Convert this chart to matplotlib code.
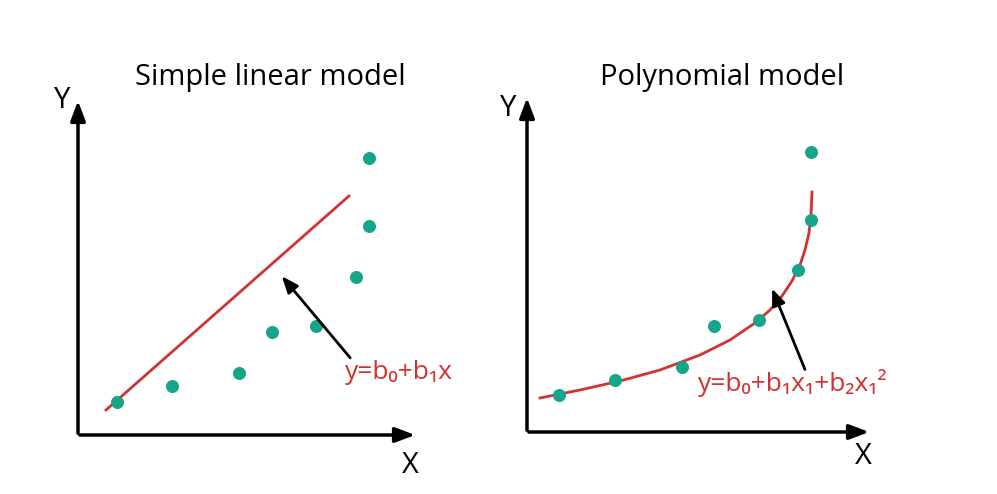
import matplotlib
matplotlib.use("Agg")
import matplotlib.pyplot as plt

# everything in pixel space of the 997x494 picture
lin_x = [117, 172, 239, 272, 316, 356, 369, 369]
lin_y = [402, 386, 373, 332, 326, 277, 226, 158]
lin_line_x = [106, 349]
lin_line_y = [410, 196]

poly_x = [559, 615, 682, 714, 759, 798, 811, 811]
poly_y = [395, 380, 367, 326, 320, 270, 220, 152]
curve_x = [540, 580, 620, 660, 700, 730, 755, 770, 782, 792, 800, 805, 809, 811, 812]
curve_y = [398, 390, 381, 370, 355, 340, 323, 310, 296, 281, 265, 250, 233, 215, 192]

TEAL, RED = "#17a589", "#d23232"
plt.rcParams["font.family"] = ["Open Sans", "DejaVu Sans"]

fig = plt.figure(figsize=(9.97, 4.94), dpi=100)
ax = fig.add_axes([0, 0, 1, 1])
ax.set_xlim(0, 997); ax.set_ylim(494, 0); ax.axis("off")

def axes_arrows(ox, oy, top, right):
    kw = dict(arrowstyle="-|>,head_width=0.45,head_length=1.2", color="black", lw=2.5)
    ax.annotate("", xy=(ox, top), xytext=(ox, oy + 1), arrowprops=kw)
    ax.annotate("", xy=(right, oy), xytext=(ox - 1, oy), arrowprops=kw)

axes_arrows(78, 435, 98, 418)
axes_arrows(527, 432, 95, 872)

ax.plot(lin_line_x, lin_line_y, color=RED, lw=2)
ax.scatter(lin_x, lin_y, s=70, color=TEAL, zorder=3)
ax.plot(curve_x, curve_y, color=RED, lw=2)
ax.scatter(poly_x, poly_y, s=70, color=TEAL, zorder=3)

pk = dict(arrowstyle="-|>,head_width=0.4,head_length=1.0", color="black", lw=2)
ax.annotate("", xy=(280, 274), xytext=(352, 360), arrowprops=pk)
ax.annotate("", xy=(771, 286), xytext=(806, 372), arrowprops=pk)

ax.text(345, 372, "y=b₀+b₁x", color=RED, fontsize=19, va="center")
ax.text(698, 383, "y=b₀+b₁x₁+b₂x₁²", color=RED, fontsize=19, va="center")

ax.text(270, 77, "Simple linear model", fontsize=21, ha="center", va="center")
ax.text(722, 77, "Polynomial model", fontsize=21, ha="center", va="center")
ax.text(62, 100, "Y", fontsize=21, ha="center", va="center")
ax.text(508, 108, "Y", fontsize=21, ha="center", va="center")
ax.text(410, 465, "X", fontsize=21, ha="center", va="center")
ax.text(863, 456, "X", fontsize=21, ha="center", va="center")

fig.savefig("out.png", dpi=100)
